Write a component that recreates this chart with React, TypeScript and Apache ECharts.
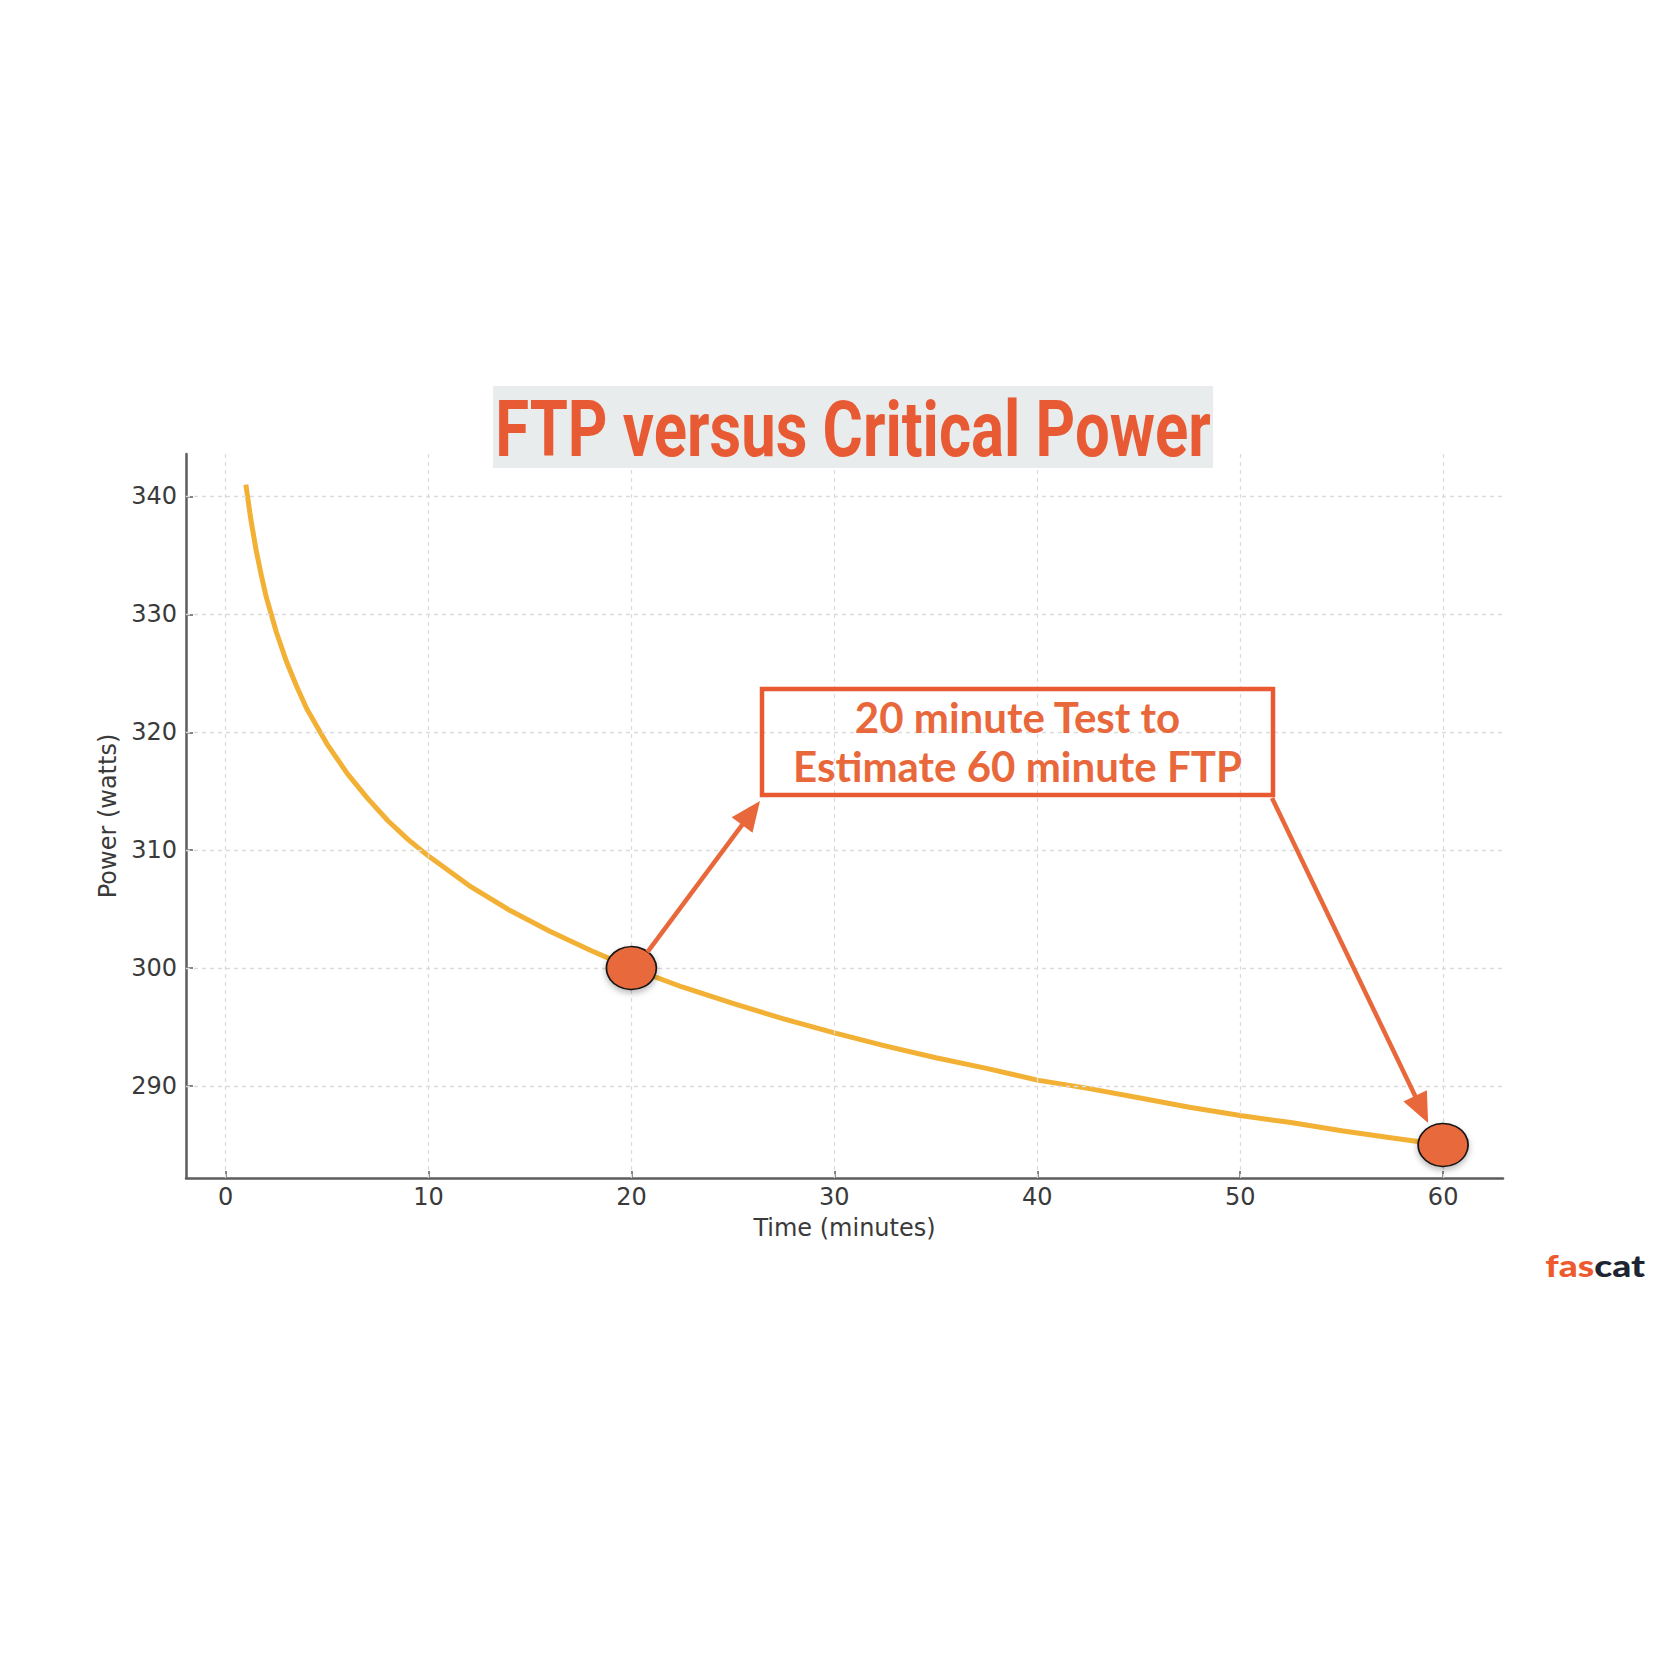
import React, { useEffect, useRef } from "react";
import * as echarts from "echarts";

// ---- data ----
const xTicks = [0, 10, 20, 30, 40, 50, 60];
const yTicks = [290, 300, 310, 320, 330, 340];
const times = [1, 1.25, 1.5, 1.75, 2, 2.5, 3, 3.5, 4, 5, 6, 7, 8, 9, 10, 12, 14, 16, 18, 20, 22.5, 25, 27.5, 30, 32.5, 35, 37.5, 40, 42.5, 45, 47.5, 50, 52.5, 55, 57.5, 60];
const power = [341, 338, 335.5, 333.4, 331.5, 328.5, 326, 323.9, 322, 319, 316.5, 314.4, 312.5, 310.9, 309.5, 307, 304.9, 303.1, 301.5, 300, 298.4, 297, 295.7, 294.5, 293.4, 292.4, 291.5, 290.5, 289.8, 289, 288.2, 287.5, 286.9, 286.2, 285.6, 285];
const markerTimes = [20, 60];
const markerPower = [300, 285];
const titleText = "FTP versus Critical Power";
const noteLines = ["20 minute Test to", "Estimate 60 minute FTP"];
const xName = "Time (minutes)";
const yName = "Power (watts)";

const ORANGE = "#E8683B";
const BOX = "#E95A33";
const TICK_FONT = "DejaVu Sans";
const TEXT_GREY = "#3a3a3a";

function arrow(start: number[], tip: number[], color: string, width: number, headLen: number, headW: number) {
  const dx = tip[0] - start[0];
  const dy = tip[1] - start[1];
  const len = Math.sqrt(dx * dx + dy * dy);
  const ux = dx / len;
  const uy = dy / len;
  const bx = tip[0] - ux * headLen;
  const by = tip[1] - uy * headLen;
  const nx = -uy;
  const ny = ux;
  return [
    {
      type: "line",
      shape: { x1: start[0], y1: start[1], x2: bx + ux * 2, y2: by + uy * 2 },
      style: { stroke: color, lineWidth: width },
      z: 20,
    },
    {
      type: "polygon",
      shape: {
        points: [
          [tip[0], tip[1]],
          [bx + (nx * headW) / 2, by + (ny * headW) / 2],
          [bx - (nx * headW) / 2, by - (ny * headW) / 2],
        ],
      },
      style: { fill: color },
      z: 20,
    },
  ];
}

export default function App() {
  const ref = useRef<HTMLDivElement>(null);
  useEffect(() => {
    if (!ref.current) return;
    const chart = echarts.init(ref.current, null, { renderer: "svg" });
    const axisCommon = {
      nameLocation: "middle",
      nameTextStyle: { fontFamily: TICK_FONT, fontSize: 24, color: TEXT_GREY },
      axisLine: { onZero: false, lineStyle: { color: "#5c5c5c", width: 2.5 } },
      splitLine: { show: false },
    };
    const option: any = {
      animation: false,
      backgroundColor: "#ffffff",
      grid: { left: 186, right: 155, top: 454, bottom: 480, containLabel: false },
      xAxis: {
        ...axisCommon,
        type: "value",
        min: -1.95,
        max: 62.95,
        name: xName,
        nameGap: 38,
        axisTick: { inside: true, length: 7, customValues: xTicks, lineStyle: { color: "#5c5c5c", width: 1.5 } },
        axisLabel: { customValues: xTicks, fontFamily: TICK_FONT, fontSize: 24, color: TEXT_GREY, margin: 7 },
      },
      yAxis: {
        ...axisCommon,
        type: "value",
        min: 282.2,
        max: 343.6,
        name: yName,
        nameRotate: 90,
        nameGap: 62,
        axisTick: { inside: true, length: 7, customValues: yTicks, lineStyle: { color: "#5c5c5c", width: 1.5 } },
        axisLabel: { customValues: yTicks, fontFamily: TICK_FONT, fontSize: 24, color: TEXT_GREY, margin: 9 },
      },
      series: [
        {
          name: "grid",
          type: "line",
          data: [],
          z: 1,
          silent: true,
          markLine: {
            silent: true,
            symbol: "none",
            animation: false,
            label: { show: false },
            lineStyle: { color: "#dcdcdc", type: [4, 4], width: 1.3 },
            data: [
              ...yTicks.map((v) => ({ yAxis: v })),
              ...xTicks.map((v) => ({ xAxis: v })),
            ],
          },
        },
        {
          name: "Power",
          type: "line",
          data: times.map((t, i) => [t, power[i]]),
          smooth: false,
          showSymbol: false,
          z: 3,
          lineStyle: { color: "#F2B134", width: 5, cap: "butt", join: "round" },
        },
        {
          name: "Markers",
          type: "scatter",
          data: markerTimes.map((t, i) => [t, markerPower[i]]),
          symbol: "circle",
          symbolSize: [50, 43],
          z: 5,
          itemStyle: {
            color: "#E8693A",
            opacity: 1,
            borderColor: "#151515",
            borderWidth: 1.6,
            shadowBlur: 6,
            shadowColor: "rgba(0,0,0,0.28)",
            shadowOffsetY: 3,
          },
        },
      ],
    };
    chart.setOption(option);

    const p1 = chart.convertToPixel({ xAxisIndex: 0, yAxisIndex: 0 }, [markerTimes[0], markerPower[0]]) as number[];
    const p2 = chart.convertToPixel({ xAxisIndex: 0, yAxisIndex: 0 }, [markerTimes[1], markerPower[1]]) as number[];

    const boxL = 762, boxT = 689, boxW = 511, boxH = 106;
    const cx = boxL + boxW / 2;

    const graphic: any[] = [
      {
        type: "rect",
        shape: { x: 493, y: 386, width: 720, height: 82 },
        style: { fill: "#E8ECEC" },
        z: 10,
      },
      {
        type: "text",
        x: 853,
        y: 429,
        scaleX: 0.79,
        style: {
          text: titleText,
          x: 0,
          y: 0,
          fill: "#E85A34",
          font: "bold 78px Roboto",
          textAlign: "center",
          textVerticalAlign: "middle",
        },
        z: 11,
      },
      {
        type: "rect",
        shape: { x: boxL, y: boxT, width: boxW, height: boxH },
        style: { fill: "none", stroke: BOX, lineWidth: 4.5 },
        z: 20,
      },
      {
        type: "text",
        x: cx,
        y: 717,
        style: {
          text: noteLines[0],
          fill: ORANGE,
          font: "bold 42px Lato",
          textAlign: "center",
          textVerticalAlign: "middle",
        },
        z: 21,
      },
      {
        type: "text",
        x: cx,
        y: 766,
        style: {
          text: noteLines[1],
          fill: ORANGE,
          font: "bold 42px Lato",
          textAlign: "center",
          textVerticalAlign: "middle",
        },
        z: 21,
      },
      ...arrow([p1[0] + 16, p1[1] - 16], [boxL - 2, boxT + boxH + 6], ORANGE, 4.5, 30, 26),
      ...arrow([boxL + boxW - 1, boxT + boxH + 3], [p2[0] - 15, p2[1] - 22], ORANGE, 4.5, 30, 26),
      {
        type: "text",
        x: 1645,
        y: 1265,
        scaleX: 1.2,
        style: {
          text: "{a|fas}{b|cat}",
          x: 0,
          y: 0,
          textAlign: "right",
          textVerticalAlign: "middle",
          rich: {
            a: { fill: "#EE5A2F", font: "900 31px Lato" },
            b: { fill: "#1E2432", font: "900 31px Lato" },
          },
        },
        z: 21,
      },
    ];
    chart.setOption({ graphic });

    return () => chart.dispose();
  }, []);
  return (
    <div
      ref={ref}
      style={{ position: "fixed", left: 0, top: 0, width: 1658, height: 1658, background: "#fff" }}
    />
  );
}
